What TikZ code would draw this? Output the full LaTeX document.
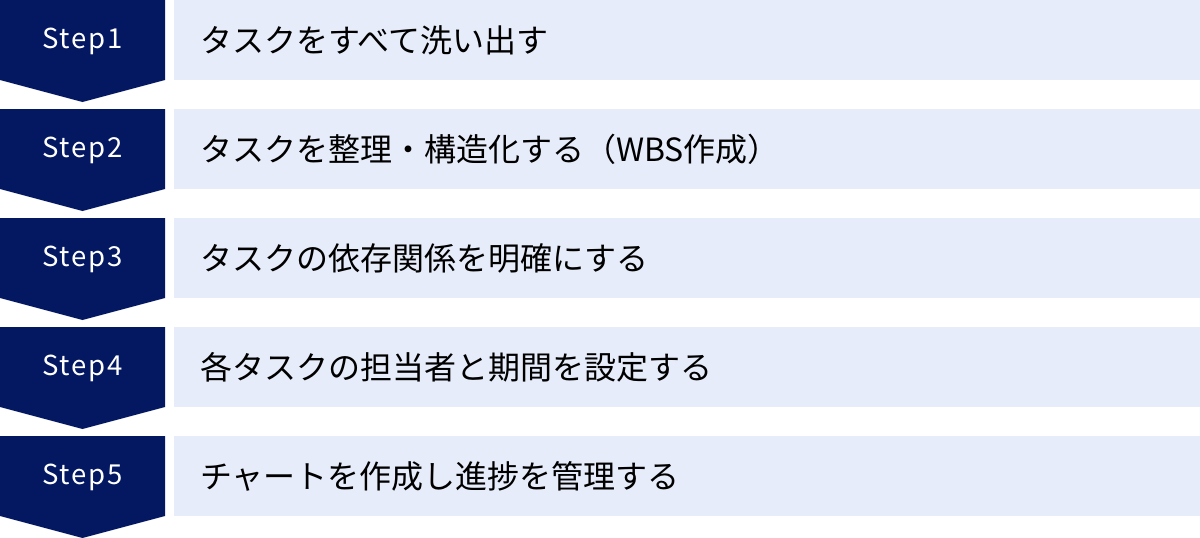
\documentclass[tikz,border=0pt]{standalone}
\usepackage{fontspec}
\setmainfont{Noto Sans CJK JP}
\newfontfamily\stepfont[LetterSpace=6]{Noto Sans CJK JP}
\definecolor{navy}{HTML}{041862}
\definecolor{pale}{HTML}{E6ECF9}
\tikzset{
  stepshape/.style={fill=navy,draw=none},
  barshape/.style={fill=pale,draw=none},
  steplabel/.style={text=white,font=\stepfont\fontsize{27.5}{32}\selectfont,inner sep=0pt,anchor=center},
  barlabel/.style={text=black,font=\fontsize{32}{37}\selectfont,inner sep=0pt,anchor=west}
}
\begin{document}
\begin{tikzpicture}[x=1pt,y=-1pt]
\useasboundingbox (0,0) rectangle (1200,538);
\foreach \i/\t in {0/{タスクをすべて洗い出す},1/{タスクを整理・構造化する（WBS作成）},2/{タスクの依存関係を明確にする},3/{各タスクの担当者と期間を設定する},4/{チャートを作成し進捗を管理する}}{
  \pgfmathsetmacro{\yy}{\i*109}
  \path[stepshape] (0,\yy) -- (165,\yy) -- (165,\yy+80) -- (82.5,\yy+102) -- (0,\yy+80) -- cycle;
  \path[barshape] (174,\yy) rectangle (1200,\yy+80);
  \pgfmathtruncatemacro{\n}{\i+1}
  \node[steplabel] (step\n) at (82.5,\yy+41) {Step\n};
  \node[barlabel] (task\n) at (200,\yy+40) {\t};
}
\end{tikzpicture}
\end{document}
